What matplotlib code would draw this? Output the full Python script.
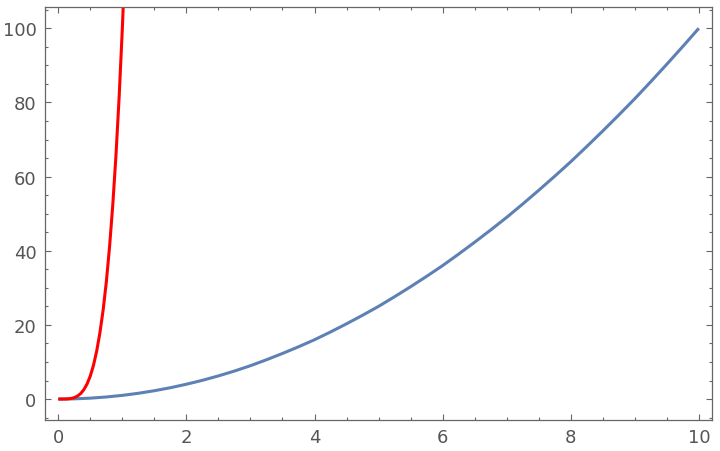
import numpy as np
import matplotlib.pyplot as plt
from matplotlib.ticker import MultipleLocator

# blue curve, values
blue_x = [0, 0.25, 0.5, 0.75, 1, 1.25, 1.5, 1.75, 2, 2.25, 2.5, 2.75, 3, 3.25, 3.5,
          3.75, 4, 4.25, 4.5, 4.75, 5, 5.25, 5.5, 5.75, 6, 6.25, 6.5, 6.75, 7, 7.25,
          7.5, 7.75, 8, 8.25, 8.5, 8.75, 9, 9.25, 9.5, 9.75, 10]
blue_y = [0, 0.06, 0.25, 0.56, 1.0, 1.56, 2.25, 3.06, 4.0, 5.06, 6.25, 7.56, 9.0,
          10.6, 12.3, 14.1, 16.0, 18.1, 20.3, 22.6, 25.0, 27.6, 30.3, 33.1, 36.0,
          39.1, 42.3, 45.6, 49.0, 52.6, 56.3, 60.1, 64.0, 68.1, 72.3, 76.6, 81.0,
          85.6, 90.3, 95.1, 100.0]

# red curve, values
red_x = [0, 0.05, 0.1, 0.15, 0.2, 0.25, 0.3, 0.35, 0.4, 0.45, 0.5, 0.55, 0.6, 0.65,
         0.7, 0.75, 0.8, 0.85, 0.9, 0.95, 1.0, 1.05]
red_y = [0, 0.0006, 0.01, 0.05, 0.16, 0.39, 0.81, 1.5, 2.56, 4.1, 6.25, 9.15, 13.0,
         17.9, 24.0, 31.6, 41.0, 52.2, 65.6, 81.5, 100.0, 121.6]

frame = '#666666'

fig = plt.figure(figsize=(7.2, 4.52), dpi=100)
ax = fig.add_axes([0.0621, 0.0692, 0.9272, 0.9124])

ax.plot(blue_x, blue_y, color='#5E81B5', lw=2.2, solid_capstyle='butt')
ax.plot(red_x, red_y, color='#FF0000', lw=2.2, solid_capstyle='butt')

ax.set_xlim(-0.212, 10.21)
ax.set_ylim(-5.57, 105.65)

ax.xaxis.set_major_locator(MultipleLocator(2))
ax.xaxis.set_minor_locator(MultipleLocator(0.5))
ax.yaxis.set_major_locator(MultipleLocator(20))
ax.yaxis.set_minor_locator(MultipleLocator(5))

for s in ax.spines.values():
    s.set_color(frame)
    s.set_linewidth(0.9)

ax.tick_params(which='both', direction='in', top=True, right=True,
               color=frame, width=0.8, labelcolor='#555555', labelsize=13)
ax.tick_params(which='major', length=4.2, pad=6)
ax.tick_params(which='minor', length=2.4)

fig.savefig('out.png', dpi=100)
